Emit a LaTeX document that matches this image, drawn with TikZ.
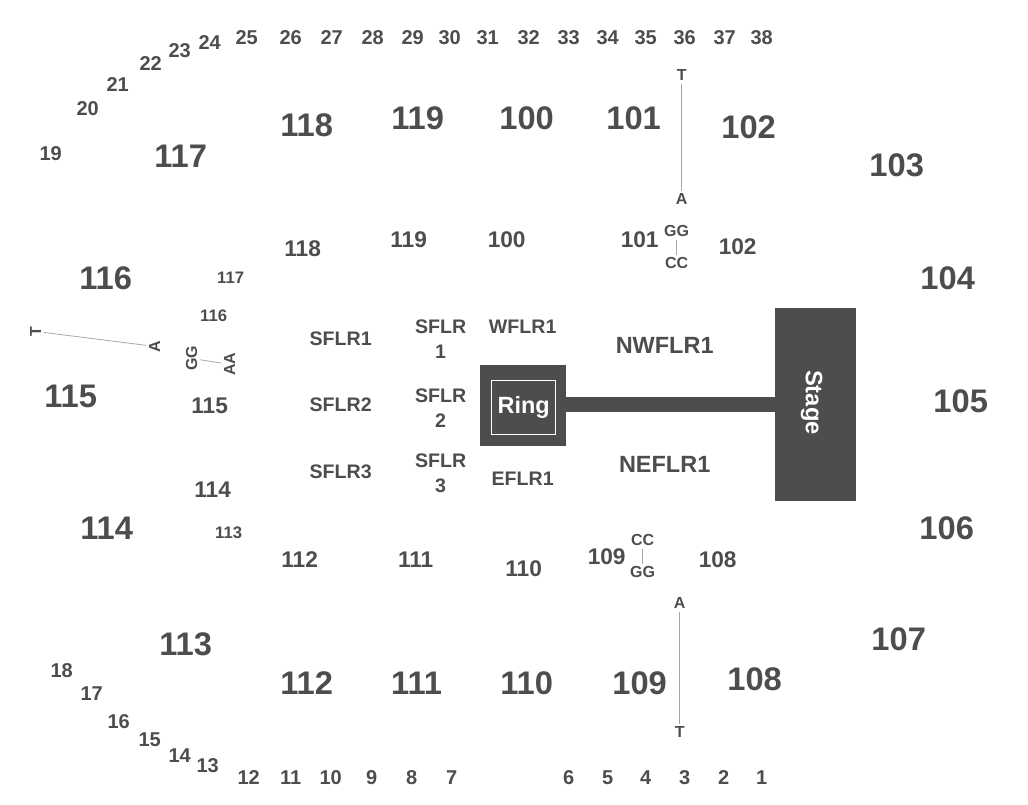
\documentclass[tikz,border=0pt]{standalone}
\usepackage{fontspec}
\setmainfont{Liberation Sans}
\usepackage{tikz}
\definecolor{darkgrey}{HTML}{4D4D4D}
\definecolor{aislegrey}{HTML}{A6A6A6}
\tikzset{
	every node/.style={text=darkgrey, inner sep=0pt, align=center, xshift=0.5pt, yshift=-0.3pt},
	bigsec/.style={font=\fontsize{24.5}{28}\selectfont\bfseries},
	midsec/.style={font=\fontsize{17}{20}\selectfont\bfseries},
	smallsec/.style={font=\fontsize{12.5}{15}\selectfont\bfseries},
	floorsec/.style={font=\fontsize{14.7}{19}\selectfont\bfseries},
	wingsec/.style={font=\fontsize{17.6}{21}\selectfont\bfseries},
	seat/.style={font=\fontsize{15}{18}\selectfont\bfseries},
	aislemark/.style={font=\fontsize{12}{14}\selectfont\bfseries, inner sep=2pt},
	aisle/.style={draw=aislegrey, line width=0.6pt},
}
\begin{document}
\begin{tikzpicture}[x=0.75pt, y=-0.75pt]
\useasboundingbox (0,0) rectangle (1028,804);

%Upper bowl
\node[bigsec] (up117) at (180,156) {117};
\node[bigsec] (up118) at (306,125) {118};
\node[bigsec] (up119) at (417,118) {119};
\node[bigsec] (up100) at (526,118) {100};
\node[bigsec] (up101) at (633,118) {101};
\node[bigsec] (up102) at (748,127) {102};
\node[bigsec] (up103) at (896,165) {103};
\node[bigsec] (up104) at (947,278) {104};
\node[bigsec] (up105) at (960,401) {105};
\node[bigsec] (up106) at (946,528) {106};
\node[bigsec] (up107) at (898,639) {107};
\node[bigsec] (up108) at (754,679) {108};
\node[bigsec] (up109) at (639,683) {109};
\node[bigsec] (up110) at (526,683) {110};
\node[bigsec] (up111) at (416,683) {111};
\node[bigsec] (up112) at (306,683) {112};
\node[bigsec] (up113) at (185,644) {113};
\node[bigsec] (up114) at (106,528) {114};
\node[bigsec] (up115) at (70,396) {115};
\node[bigsec] (up116) at (105,278) {116};

%Lower bowl
\node[midsec] (low118) at (302,248) {118};
\node[midsec] (low119) at (408,239) {119};
\node[midsec] (low100) at (506,239) {100};
\node[midsec] (low101) at (639,239) {101};
\node[midsec] (low102) at (737,246) {102};
\node[midsec] (low115) at (209,405) {115};
\node[midsec] (low114) at (212,489) {114};
\node[midsec] (low112) at (299,559) {112};
\node[midsec] (low111) at (415,559) {111};
\node[midsec] (low110) at (523,568) {110};
\node[midsec] (low109) at (606,556) {109};
\node[midsec] (low108) at (717,559) {108};
\node[smallsec] (low117) at (230,277) {117};
\node[smallsec] (low116) at (213,315) {116};
\node[smallsec] (low113) at (228,532) {113};

%Floor
\node[floorsec] (sflrA) at (340,338) {SFLR1};
\node[floorsec] (sflrB) at (340,404) {SFLR2};
\node[floorsec] (sflrC) at (340,471) {SFLR3};
\node[floorsec] (sflrD) at (440,339) {SFLR\\1};
\node[floorsec] (sflrE) at (440,408) {SFLR\\2};
\node[floorsec] (sflrF) at (440,473) {SFLR\\3};
\node[floorsec] (wflr) at (522,326) {WFLR1};
\node[floorsec] (eflr) at (522,478) {EFLR1};
\node[wingsec] (nwflr) at (664,345) {NWFLR1};
\node[wingsec] (neflr) at (664,464) {NEFLR1};

%Seat rows, top
\node[seat] (row19) at (50,153) {19};
\node[seat] (row20) at (87,108) {20};
\node[seat] (row21) at (117,84) {21};
\node[seat] (row22) at (150,63) {22};
\node[seat] (row23) at (179,50) {23};
\node[seat] (row24) at (209,42) {24};
\node[seat] (row25) at (246,37) {25};
\node[seat] (row26) at (290,37) {26};
\node[seat] (row27) at (331,37) {27};
\node[seat] (row28) at (372,37) {28};
\node[seat] (row29) at (412,37) {29};
\node[seat] (row30) at (449,37) {30};
\node[seat] (row31) at (487,37) {31};
\node[seat] (row32) at (528,37) {32};
\node[seat] (row33) at (568,37) {33};
\node[seat] (row34) at (607,37) {34};
\node[seat] (row35) at (645,37) {35};
\node[seat] (row36) at (684,37) {36};
\node[seat] (row37) at (724,37) {37};
\node[seat] (row38) at (761,37) {38};

%Seat rows, bottom
\node[seat] (row18) at (61,670) {18};
\node[seat] (row17) at (91,693) {17};
\node[seat] (row16) at (118,721) {16};
\node[seat] (row15) at (149,739) {15};
\node[seat] (row14) at (179,755) {14};
\node[seat] (row13) at (207,765) {13};
\node[seat] (row12) at (248,777) {12};
\node[seat] (row11) at (290,777) {11};
\node[seat] (row10) at (330,777) {10};
\node[seat] (row9) at (371,777) {9};
\node[seat] (row8) at (411,777) {8};
\node[seat] (row7) at (451,777) {7};
\node[seat] (row6) at (568,777) {6};
\node[seat] (row5) at (607,777) {5};
\node[seat] (row4) at (645,777) {4};
\node[seat] (row3) at (684,777) {3};
\node[seat] (row2) at (723,777) {2};
\node[seat] (row1) at (761,777) {1};

%Ring
\node[fill=darkgrey, minimum width=64.5pt, minimum height=60.75pt] (ringbox) at (522.5,405) {};
\node[draw=white, line width=0.7pt, minimum width=48pt, minimum height=40.5pt, text=white,
font=\fontsize{17.6}{21}\selectfont\bfseries] (ring) at (523,407.5) {Ring};

%Stage
\node[fill=darkgrey, minimum width=60.75pt, minimum height=144.75pt] (stage) at (814.5,404) {};
\node[rotate=-90, text=white, font=\fontsize{17.8}{21}\selectfont\bfseries] (stagetext) at (811,402) {Stage};

%Aisle markers
\node[aislemark] (topT) at (681,75) {T};
\node[aislemark] (topA) at (681,199) {A};
\node[aislemark] (topGG) at (676,231) {GG};
\node[aislemark] (topCC) at (676,263) {CC};
\node[aislemark] (botCC) at (642,540) {CC};
\node[aislemark] (botGG) at (642,572) {GG};
\node[aislemark] (botA) at (679,603) {A};
\node[aislemark] (botT) at (679,732) {T};
\node[aislemark, rotate=90] (leftT) at (35,331) {T};
\node[aislemark, rotate=90] (leftA) at (154,346) {A};
\node[aislemark, rotate=90] (leftGG) at (191,358) {GG};
\node[aislemark, rotate=90] (leftAA) at (229,364) {AA};

%Paths
%ring to stage
\draw[darkgrey, line width=11.25pt] ([yshift=0.4pt]ringbox.east) -- ([xshift=1pt,yshift=0.4pt]ringbox.east-|stage.west);
%aisle lines
\draw[aisle] (topT) -- (topA);
\draw[aisle] (topGG) -- (topCC);
\draw[aisle] (botCC) -- (botGG);
\draw[aisle] (botA) -- (botT);
\draw[aisle] (leftT) -- (leftA);
\draw[aisle] (leftGG) -- (leftAA);

\end{tikzpicture}
\end{document}
